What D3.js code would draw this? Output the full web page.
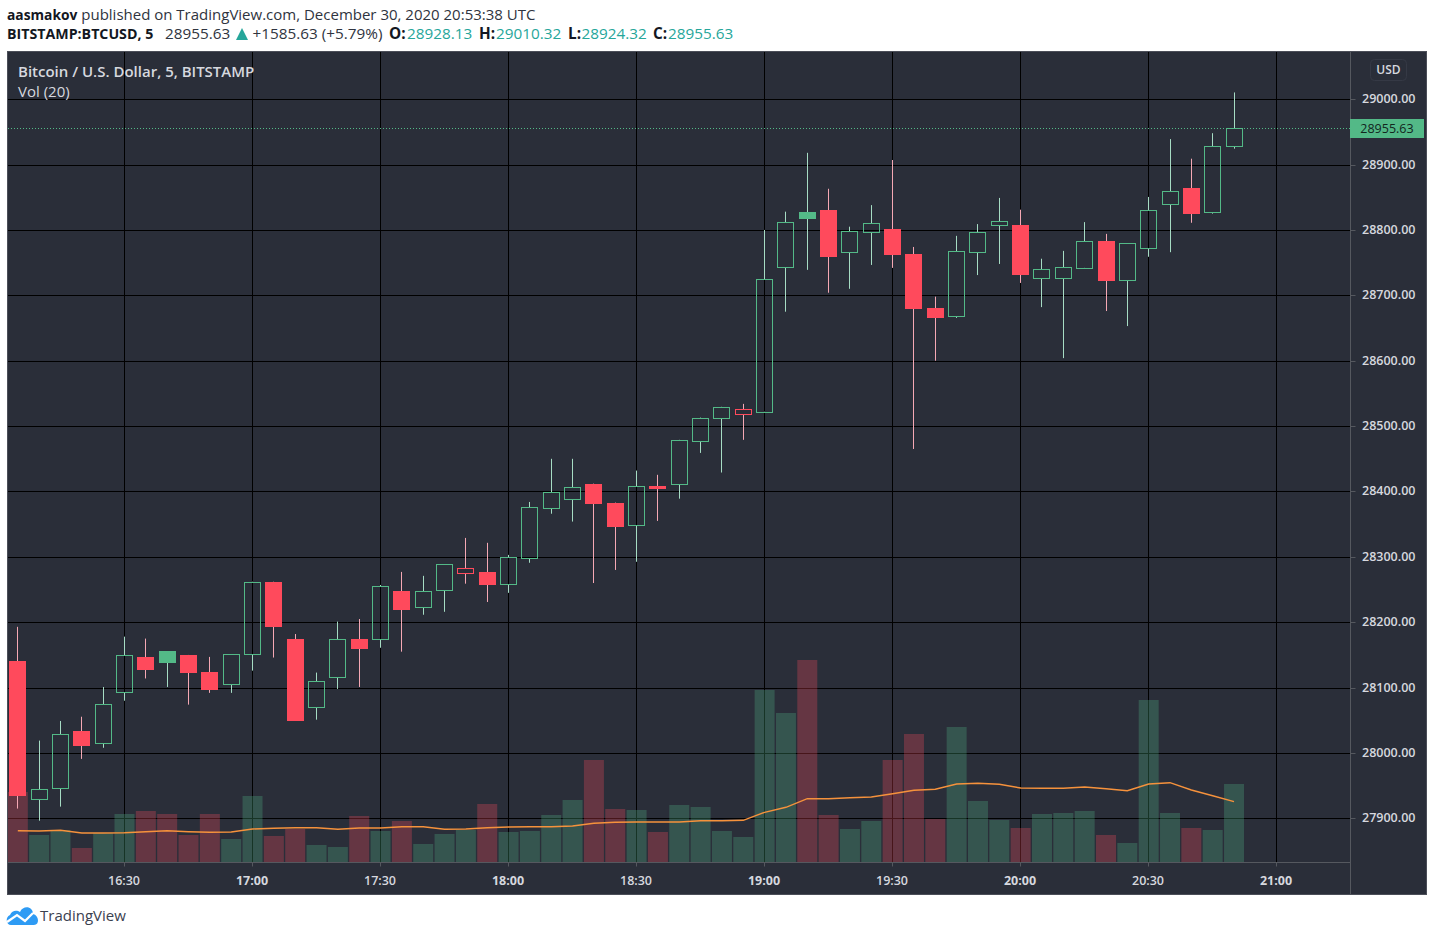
<!DOCTYPE html>
<html>
<head>
<meta charset="utf-8">
<script src="https://cdn.jsdelivr.net/npm/d3@7"></script>
<style>
    html, body { margin: 0; padding: 0; background: #fff; }
    svg { display: block; }
    text { font-family: "Open Sans", "Noto Sans", sans-serif; }
</style>
</head>
<body>
<svg id="chart"></svg>
<script>
    /*5 minute bars from 16:05*/
    const startTime = Date.UTC(2020, 11, 30, 16, 5);

    const open = [28140, 27929, 27947, 28033, 28015, 28094, 28147, 28156, 28150, 28124,
        28105, 28151, 28262, 28175, 28070, 28117, 28175, 28174, 28248, 28223,
        28249, 28276, 28277, 28259, 28299, 28375.5, 28388, 28412, 28383, 28349.5,
        28409, 28412, 28477.5, 28513, 28518, 28522, 28744, 28828, 28831, 28767,
        28797, 28802, 28763, 28681, 28669, 28767, 28808, 28808, 28727, 28726,
        28742, 28783, 28724, 28773, 28840, 28864, 28828, 28928.13];
    const high = [28193, 28019, 28049, 28055.5, 28101, 28178, 28175, 28156, 28150, 28147,
        28151, 28262, 28262, 28182, 28123, 28201, 28205, 28257, 28277, 28271,
        28289, 28329, 28321.5, 28303, 28384, 28450, 28450, 28412, 28383, 28432,
        28425.5, 28479, 28513, 28529.5, 28534, 28800, 28828, 28918, 28863, 28805,
        28838, 28907, 28774, 28698, 28791, 28809, 28849, 28831, 28756, 28768,
        28812, 28794, 28780, 28850.5, 28939, 28909, 28948, 29010.32];
    const low = [27915, 27896.5, 27918, 27991, 28008, 28080, 28114, 28101, 28074, 28092,
        28092, 28126, 28146, 28049, 28051, 28098, 28101, 28161, 28155, 28211.5,
        28216, 28259, 28231, 28245, 28291, 28366, 28354, 28260, 28280, 28292.5,
        28355, 28389, 28459, 28429, 28479, 28522, 28675, 28739, 28704, 28710,
        28746.5, 28742, 28465, 28600, 28665.5, 28731, 28748, 28719, 28682, 28604,
        28742, 28676, 28653, 28759, 28766, 28811, 28825, 28924.32];
    const close = [27935, 27945, 28029, 28010, 28075, 28150, 28127, 28138, 28123, 28097,
        28151, 28262, 28192, 28049, 28110, 28174, 28159.5, 28256, 28219, 28248,
        28289, 28283, 28257, 28300, 28376, 28399, 28407, 28381, 28346, 28408,
        28404, 28479, 28513, 28529.5, 28526, 28725, 28812, 28817, 28759, 28798,
        28810, 28762, 28679, 28665.5, 28767.5, 28796.5, 28813, 28731, 28740, 28743,
        28783, 28722, 28780, 28830, 28859, 28824.5, 28928, 28955.63];
    const volume = [70, 27, 32, 14, 29, 48, 51, 48, 27, 48,
        23, 66, 26, 33, 17, 15, 46, 31, 41, 18,
        28, 32, 58, 30, 31, 47, 62, 102, 53, 52,
        30, 57, 55, 31, 25, 172, 149, 202, 47, 33,
        41, 102, 128, 43, 135, 61, 42, 34, 48, 49,
        51, 27, 19, 162, 49, 34, 32, 78];
    const volumeMa = [31.3, 31, 31.7, 29, 29, 29.3, 30.3, 31.3, 30.3, 29.7,
        30, 33, 33.7, 34.3, 34.3, 32.7, 34, 34, 35.3, 35.3,
        32.7, 33, 34.3, 35, 35.3, 35.3, 36, 38.7, 39.7, 40,
        40, 40, 41.3, 41.3, 41.7, 49.7, 54.7, 63.3, 63.3, 64.3,
        65, 68.3, 71.7, 72.7, 78, 78.7, 77.7, 74, 73.7, 73.7,
        75, 73.3, 71.3, 78, 79.3, 72, 66.3, 60.3];

    const priceTicks = [27900, 28000, 28100, 28200, 28300, 28400, 28500, 28600, 28700, 28800, 28900, 29000];
    const timeTicks = ["16:30", "17:00", "17:30", "18:00", "18:30", "19:00", "19:30", "20:00", "20:30", "21:00"];
    const lastPrice = 28955.63;

    const width = 1434;
    const height = 938;
    const plot = { left: 8, right: 1350, top: 52, bottom: 862, outerRight: 1426, outerBottom: 894 };

    const GREEN = "#53b987";
    const RED = "#ff4a5c";
    const GREEN_WICK = "#a6dcc4";
    const RED_WICK = "#f5a8b4";
    const BG = "#2a2e39";
    const LABEL = "#d6d8df";

    const svg = d3.select("#chart")
        .attr("width", width)
        .attr("height", height);

    const bars = open.map((d, i) => ({
        time: new Date(startTime + i * 5 * 60000),
        open: d,
        high: high[i],
        low: low[i],
        close: close[i],
        volume: volume[i],
        ma: volumeMa[i],
        /*hollow candle colour compares with the previous close*/
        up: i === 0 ? close[i] >= d : close[i] >= close[i - 1],
        hollow: close[i] > d
    }));

    const parseTick = (s) => {
        const [h, m] = s.split(":").map(Number);
        return new Date(Date.UTC(2020, 11, 30, h, m));
    };

    const x = d3.scaleUtc()
        .domain([parseTick("16:30"), parseTick("21:00")])
        .range([124.5, 1276.7]);

    const y = d3.scaleLinear()
        .domain([27900, 29000])
        .range([818.4, 99.2]);

    const v = d3.scaleLinear()
        .domain([0, 202])
        .range([plot.bottom, 660]);

    const crisp = (d) => Math.floor(d) + 0.5;
    const crispY = (d) => Math.round(d) + 0.5;

    /*panel*/
    svg.append("rect")
        .attr("x", 7.5)
        .attr("y", 51.5)
        .attr("width", plot.outerRight - 7)
        .attr("height", plot.outerBottom - 51)
        .attr("fill", BG)
        .attr("stroke", "#4b4e58");

    svg.append("defs").append("clipPath")
        .attr("id", "plot-clip")
      .append("rect")
        .attr("x", plot.left)
        .attr("y", plot.top)
        .attr("width", plot.right - plot.left)
        .attr("height", plot.bottom - plot.top);

    const g = svg.append("g").attr("clip-path", "url(#plot-clip)");

    /*grid*/
    g.append("g").selectAll("line")
        .data(priceTicks)
        .join("line")
        .attr("x1", plot.left)
        .attr("x2", plot.right)
        .attr("y1", (d) => crispY(y(d)))
        .attr("y2", (d) => crispY(y(d)))
        .attr("stroke", "#000");

    g.append("g").selectAll("line")
        .data(timeTicks)
        .join("line")
        .attr("x1", (d) => crisp(x(parseTick(d))))
        .attr("x2", (d) => crisp(x(parseTick(d))))
        .attr("y1", plot.top)
        .attr("y2", plot.bottom)
        .attr("stroke", "#000");

    /*volume*/
    g.append("g").selectAll("rect")
        .data(bars)
        .join("rect")
        .attr("x", (d) => x(d.time) - 10)
        .attr("width", 20)
        .attr("y", (d) => v(d.volume))
        .attr("height", (d) => plot.bottom - v(d.volume))
        .attr("fill", (d) => d.close >= d.open ? GREEN : RED)
        .attr("fill-opacity", 0.28);

    const maLine = d3.line()
        .x((d) => x(d.time))
        .y((d) => v(d.ma));

    g.append("path")
        .datum(bars)
        .attr("fill", "none")
        .attr("stroke", "#f6923c")
        .attr("stroke-width", 1.4)
        .attr("d", maLine);

    /*last price line*/
    g.append("line")
        .attr("x1", plot.left)
        .attr("x2", plot.right)
        .attr("y1", crispY(y(lastPrice)))
        .attr("y2", crispY(y(lastPrice)))
        .attr("stroke", GREEN)
        .attr("stroke-dasharray", "1 2");

    /*candles: the body is open to close, wicks stop at the body*/
    const candles = g.append("g").selectAll("g")
        .data(bars)
        .join("g")
        .attr("transform", (d) => `translate(${crisp(x(d.time))},0)`);

    const bodyTop = (d) => Math.round(y(Math.max(d.open, d.close)));
    const bodyBottom = (d) => Math.round(y(Math.min(d.open, d.close)));

    candles.append("line")
        .attr("y1", (d) => y(d.high))
        .attr("y2", bodyTop)
        .attr("stroke", (d) => d.up ? GREEN_WICK : RED_WICK);

    candles.append("line")
        .attr("y1", bodyBottom)
        .attr("y2", (d) => y(d.low))
        .attr("stroke", (d) => d.up ? GREEN_WICK : RED_WICK);

    candles.append("rect")
        .attr("x", (d) => d.hollow ? -8 : -8.5)
        .attr("width", (d) => d.hollow ? 16 : 17)
        .attr("y", (d) => bodyTop(d) + (d.hollow ? 0.5 : 0))
        .attr("height", (d) => bodyBottom(d) - bodyTop(d))
        .attr("fill", (d) => d.hollow ? "none" : (d.up ? GREEN : RED))
        .attr("stroke", (d) => d.hollow ? (d.up ? GREEN : RED) : "none");

    /*price axis*/
    const priceAxis = svg.append("g")
        .attr("transform", `translate(${plot.right + 0.5},0)`)
        .call(d3.axisRight(y)
            .tickValues(priceTicks)
            .tickFormat(d3.format(".2f"))
            .tickSize(5)
            .tickPadding(6.5));

    priceAxis.select(".domain")
        .attr("stroke", "#55585f")
        .attr("d", `M0,${plot.top}V${plot.outerBottom}`);
    priceAxis.selectAll(".tick")
        .attr("transform", (d) => `translate(0,${crispY(y(d))})`);
    priceAxis.selectAll(".tick line").attr("stroke", "#55585f");
    priceAxis.selectAll(".tick text")
        .attr("y", -1)
        .attr("fill", LABEL)
        .attr("font-size", 12.5)
        .attr("font-weight", 600)
        .style("font-family", "\"Open Sans\", sans-serif");

    /*time axis*/
    const timeAxis = svg.append("g")
        .attr("transform", `translate(0,${plot.bottom + 0.5})`)
        .call(d3.axisBottom(x)
            .tickValues(timeTicks.map(parseTick))
            .tickFormat(d3.utcFormat("%H:%M"))
            .tickSize(4)
            .tickPadding(10));

    timeAxis.select(".domain")
        .attr("stroke", "#55585f")
        .attr("d", `M${plot.left},0H${plot.right}`);
    timeAxis.selectAll(".tick")
        .attr("transform", (d) => `translate(${crisp(x(d))},0)`);
    timeAxis.selectAll(".tick line").attr("stroke", "#55585f");
    timeAxis.selectAll(".tick text")
        .attr("x", -0.5)
        .attr("fill", LABEL)
        .attr("font-size", 12.5)
        .attr("font-weight", (d) => d.getUTCMinutes() === 0 ? 700 : 600)
        .style("font-family", "\"Open Sans\", sans-serif");

    /*last price tag and the currency button*/
    svg.append("rect")
        .attr("x", plot.right)
        .attr("y", Math.round(y(lastPrice)) - 9)
        .attr("width", 74)
        .attr("height", 19)
        .attr("fill", GREEN);

    svg.append("text")
        .attr("x", 1387)
        .attr("y", y(lastPrice) + 4.5)
        .attr("text-anchor", "middle")
        .attr("font-size", 12.5)
        .attr("fill", "#12261e")
        .text(d3.format(".2f")(lastPrice));

    svg.append("rect")
        .attr("x", 1370.5)
        .attr("y", 59.5)
        .attr("width", 36)
        .attr("height", 21)
        .attr("rx", 4)
        .attr("fill", "none")
        .attr("stroke", "#353945");

    svg.append("text")
        .attr("x", 1388.5)
        .attr("y", 74)
        .attr("text-anchor", "middle")
        .attr("font-size", 12)
        .attr("font-weight", 600)
        .attr("fill", LABEL)
        .text("USD");

    /*pane titles*/
    svg.append("text")
        .attr("x", 18)
        .attr("y", 77)
        .attr("font-size", 15)
        .attr("font-weight", 600)
        .attr("fill", LABEL)
        .text("Bitcoin / U.S. Dollar, 5, BITSTAMP");

    svg.append("text")
        .attr("x", 18)
        .attr("y", 97)
        .attr("font-size", 15)
        .attr("fill", LABEL)
        .text("Vol (20)");

    /*header*/
    const header = svg.append("text")
        .attr("x", 7)
        .attr("y", 20)
        .attr("font-size", 15)
        .attr("fill", "#2f3440");
    header.append("tspan").attr("font-weight", 700).attr("font-size", 13.8).attr("fill", "#131722").text("aasmakov");
    header.append("tspan").text(" published on TradingView.com, December 30, 2020 20:53:38 UTC");

    const TEAL = "#26a69a";
    const quote = [
        { x: 7, text: "BITSTAMP:BTCUSD, 5", bold: true, size: 14.2, fill: "#131722" },
        { x: 165, text: "28955.63", fill: "#2f3440" },
        { x: 252.5, text: "+1585.63 (+5.79%)", fill: "#2f3440" },
        { x: 389, text: "O:", bold: true, fill: "#131722" },
        { x: 407, text: "28928.13", fill: TEAL },
        { x: 479, text: "H:", bold: true, fill: "#131722" },
        { x: 496, text: "29010.32", fill: TEAL },
        { x: 568, text: "L:", bold: true, fill: "#131722" },
        { x: 581.5, text: "28924.32", fill: TEAL },
        { x: 653, text: "C:", bold: true, fill: "#131722" },
        { x: 668, text: "28955.63", fill: TEAL }
    ];

    svg.append("g").selectAll("text")
        .data(quote)
        .join("text")
        .attr("x", (d) => d.x)
        .attr("y", 39)
        .attr("font-size", (d) => d.size || 15.3)
        .attr("font-weight", (d) => d.bold ? 700 : 400)
        .attr("fill", (d) => d.fill)
        .text((d) => d.text);

    svg.append("path")
        .attr("d", "M236,40L242,28L248,40Z")
        .attr("fill", TEAL);

    /*logo*/
    svg.append("path")
        .attr("d", "M11,925C6,925 5,917 10,915C12,910 17,910 20,912C23,905 33,906 33,914C39,915 40,925 34,925Z")
        .attr("fill", "#2e9bf4");

    svg.append("path")
        .attr("d", "M7,922L17,915L25,921L33,913")
        .attr("fill", "none")
        .attr("stroke", "#fff")
        .attr("stroke-width", 2.2);

    svg.append("text")
        .attr("x", 40)
        .attr("y", 921)
        .attr("font-size", 15)
        .attr("fill", "#3b4150")
        .text("TradingView");
</script>
</body>
</html>
